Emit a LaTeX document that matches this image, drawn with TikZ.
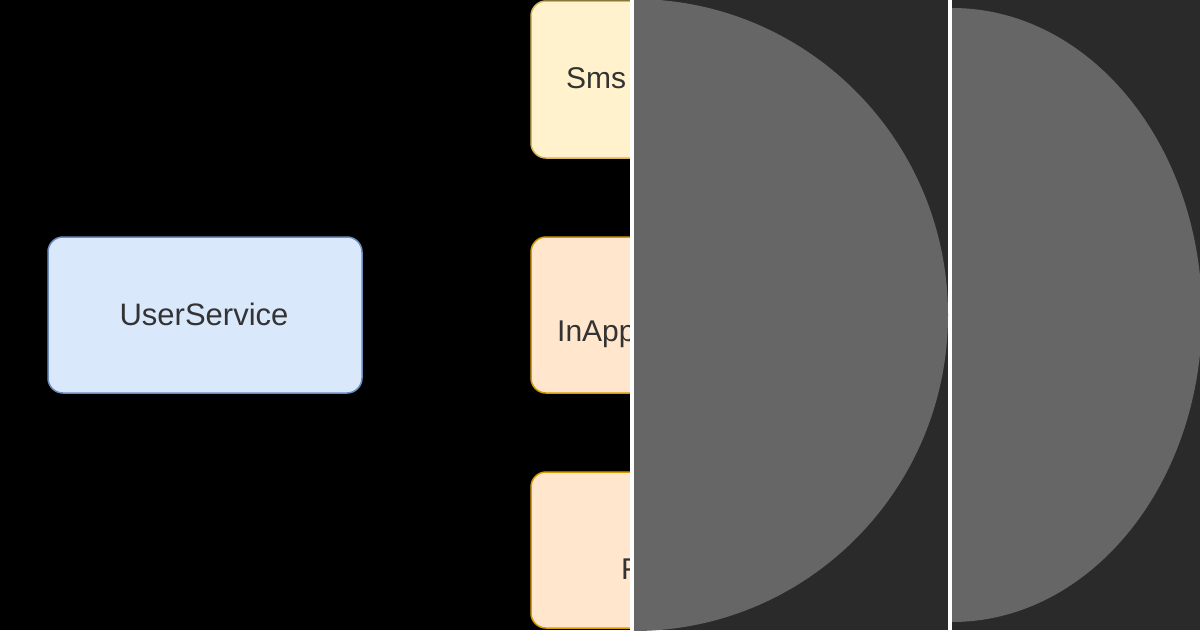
\documentclass[tikz,border=0pt]{standalone}
\usepackage{fontspec}
\setmainfont{Liberation Sans}
\definecolor{bl}{HTML}{DAE8FC}\definecolor{blb}{HTML}{6C8EBF}
\definecolor{ye}{HTML}{FFF2CC}\definecolor{yeb}{HTML}{D6B656}
\definecolor{or}{HTML}{FFE6CC}\definecolor{orb}{HTML}{D79B00}
\definecolor{dk}{HTML}{2A2A2A}\definecolor{gr}{HTML}{666666}
\begin{document}
\begin{tikzpicture}[x=1pt,y=-1pt,
  box/.style={rounded corners=15pt,line width=1.5pt},
  lbl/.style={anchor=west,inner sep=0pt,text=black!80,font=\fontsize{30}{36}\selectfont}]
\useasboundingbox (0,0) rectangle (1200,630);
\fill[black] (0,0) rectangle (1200,630);
\draw[box,fill=bl,draw=blb] (48,237) rectangle (362,393);
\node[anchor=center,inner sep=0pt,text=black!80,font=\fontsize{31}{37}\selectfont] (us) at (204,314) {UserService};
\draw[box,fill=ye,draw=yeb] (531,1) rectangle (760,158);
\draw[box,fill=or,draw=orb] (531,237) rectangle (760,393);
\draw[box,fill=or,draw=orb] (531,472) rectangle (760,628);
\node[lbl] (sms) at (566,78) {Sms};
\node[lbl] (inapp) at (557,334) {InApp};
\node[lbl] (f) at (621,569) {F};
\fill[dk] (632,0) rectangle (1200,630);
\fill[white] (630,0) rectangle (634,630);
\fill[white] (948,0) rectangle (952,630);
\begin{scope}
\clip (634,0) rectangle (948,630);
\fill[gr] (634,315) ellipse [x radius=314, y radius=316];
\end{scope}
\begin{scope}
\clip (952,0) rectangle (1200,630);
\fill[gr] (952,315) ellipse [x radius=250, y radius=307];
\end{scope}
\end{tikzpicture}
\end{document}
